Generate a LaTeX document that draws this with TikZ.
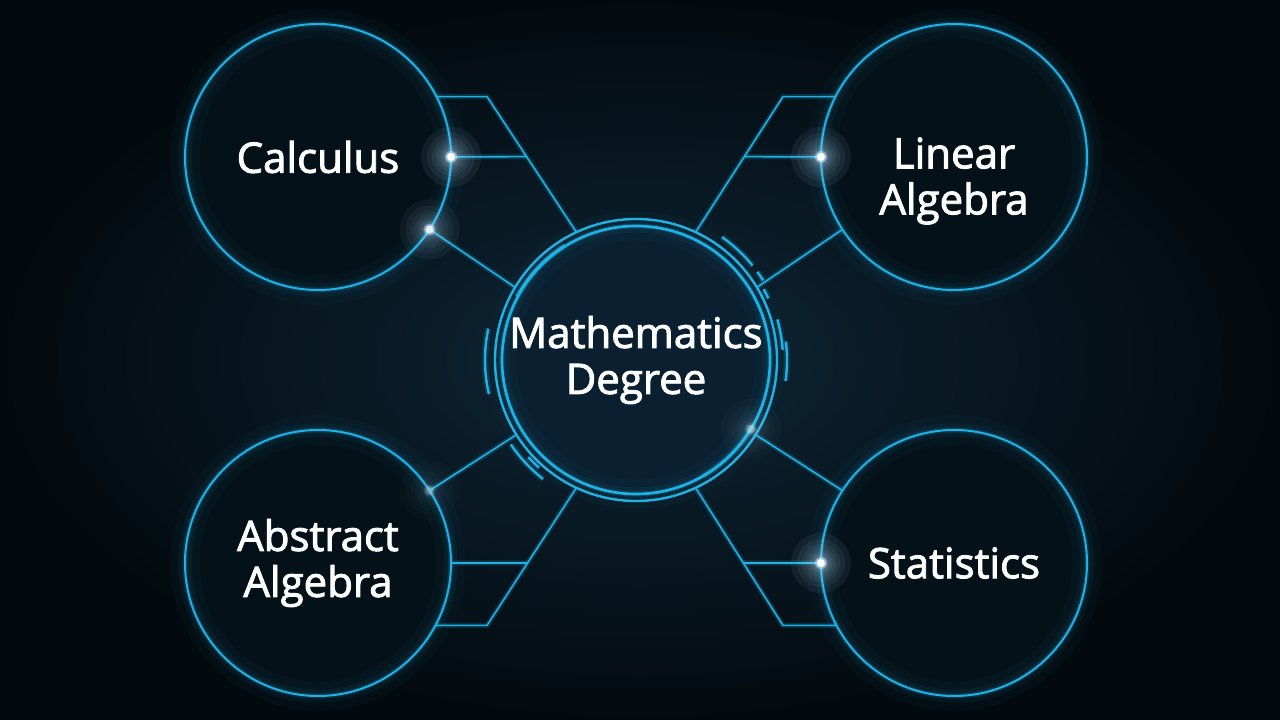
\documentclass[tikz,border=0pt]{standalone}
\usepackage{fontspec}
\setmainfont{Open Sans}[UprightFeatures={FakeBold=2.2}]
\usetikzlibrary{positioning}
\usetikzlibrary{calc}
\definecolor{bgdark}{RGB}{3,10,15}
\definecolor{bgmid}{RGB}{14,38,54}
\definecolor{neon}{RGB}{30,178,230}
\definecolor{disc}{RGB}{5,17,25}
\definecolor{hubfill}{RGB}{10,32,48}
\definecolor{sparkcol}{RGB}{190,228,255}
\tikzstyle{halo} = [postaction={draw=neon, line width=22pt, opacity=0.03},
                    postaction={draw=neon, line width=10pt, opacity=0.06},
                    postaction={draw=neon, line width=4pt, opacity=0.15}]
\tikzstyle{title} = [text=white, align=center, font=\fontsize{31.5}{34.5}\selectfont]
\tikzstyle{topic} = [circle, fill=disc, draw=neon, line width=1.5pt, minimum size=199.5pt,
                     inner sep=0pt, outer sep=0pt, halo, title]
\tikzstyle{wire} = [draw=neon, line width=1.2pt, preaction={draw=neon, line width=4pt, opacity=0.18}]
\tikzstyle{arcline} = [draw=neon, line width=1.8pt, preaction={draw=neon, line width=5pt, opacity=0.15}]
\newcommand{\hubarc}[3]{\draw[arcline] ($(1)+(#1:#3)$) arc[start angle=#1, end angle=#2, radius=#3];}
\newcommand{\glint}[2]{%
  \pgfmathsetmacro\op{0.065*#1}%
  \foreach \r in {30,24,19,15,12,10,8.5,7}{\fill[sparkcol, opacity=\op] (#2) circle (\r);}
  \pgfmathsetmacro\op{0.55*#1}\fill[sparkcol, opacity=\op] (#2) circle (6);
  \pgfmathsetmacro\op{#1}\fill[white, opacity=\op] (#2) circle (4.2);}
\begin{document}
\begin{tikzpicture}[x=0.75pt, y=0.75pt, on grid,
                    hub/.style={circle, fill=hubfill, draw=neon, line width=2pt, minimum size=192pt,
                                inner sep=0pt, outer sep=0pt, halo, title},
                    ring/.style={circle, draw=neon, line width=1.8pt, minimum size=211.5pt,
                                 inner sep=0pt, outer sep=0pt}]
  \useasboundingbox (0,0) rectangle (1280,720);
  \shade[inner color=bgmid, outer color=bgdark] (0,0) rectangle (1280,720);

  \node[hub] (1) at (636,360) {Mathematics\\Degree};
  \node[ring] (1r) at (1) {};
  \node[topic] (2) [above left=152.25pt and 238.5pt of 1] {Calculus};
  \node[topic] (3) [above right=152.25pt and 238.5pt of 1] {};
  \node[title] (3t) at ([yshift=-18pt]3.center) {Linear\\Algebra};
  \node[topic] (4) [below left=152.25pt and 238.5pt of 1] {Abstract\\Algebra};
  \node[topic] (5) [below right=152.25pt and 238.5pt of 1] {Statistics};

  \hubarc{122}{152}{135}
  \hubarc{168}{193}{151}
  \hubarc{214}{232}{151}
  \hubarc{222}{228}{145}
  \hubarc{39}{55}{150}
  \hubarc{32}{36}{150}
  \hubarc{25}{29}{146}
  \hubarc{4}{16}{147}
  \hubarc{-8}{7}{151}
  \hubarc{300}{330}{134}

  \coordinate (2a) at (487,624);
  \coordinate (3a) at (783,624);
  \coordinate (4a) at (487,94);
  \coordinate (5a) at (783,94);

  \path[wire] (2.27) -- (2.27 -| 2a) -- (1r.115);
  \path[wire] (2.0) -- ($(2a)!.445!(1r.115)$);
  \path[wire] (2.327) -- (1r.149);

  \path[wire] (3.153) -- (3.153 -| 3a) -- (1r.65);
  \path[wire] (3.180) -- ($(3a)!.445!(1r.65)$);
  \path[wire] (3.213) -- (1r.31);

  \path[wire] (4.33) -- (1r.212);
  \path[wire] (1r.245) -- (4.332 -| 4a) -- (4.332);
  \path[wire] (4.0) -- ($(4a)!.456!(1r.245)$);

  \path[wire] (5.147) -- (1r.328);
  \path[wire] (1r.295) -- (5.208 -| 5a) -- (5.208);
  \path[wire] (5.180) -- ($(5a)!.456!(1r.295)$);

  \glint{1}{2.0}
  \glint{0.8}{2.327}
  \glint{1}{3.180}
  \glint{1}{5.180}
  \glint{0.35}{1.329}
  \glint{0.25}{4.33}
\end{tikzpicture}
\end{document}
